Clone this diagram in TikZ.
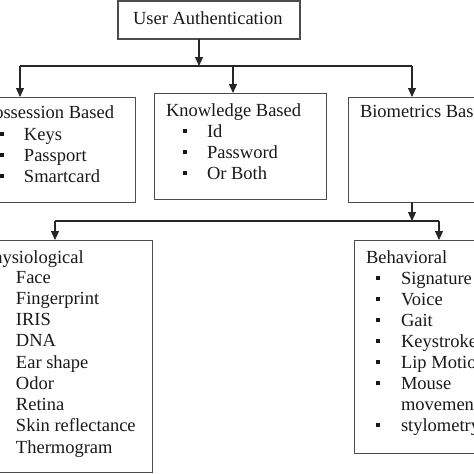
\documentclass[tikz,border=0pt]{standalone}
\usepackage{fontspec}
\setmainfont{Liberation Serif}
\usetikzlibrary{arrows.meta}
\newcommand\bulx[1][24pt]{\makebox[#1][l]{\rule[4pt]{4pt}{4pt}}}
\begin{document}
\begin{tikzpicture}[x=1pt,y=1pt,
 box/.style={draw=black!70, line width=0.9pt, rectangle, anchor=north west, inner sep=0pt, outer sep=0pt},
 txt/.style={anchor=base west, inner sep=0pt, outer sep=0pt, font=\fontsize{18.5}{21}\selectfont, text=black!90},
 conn/.style={draw=black!85, line width=1.1pt},
 arr/.style={conn, -{Triangle[length=9pt,width=8pt]}},
]
\useasboundingbox (0,0) rectangle (474,-474);
\clip (0,0) rectangle (474,-474);
% boxes
\node[box, line width=1.2pt, minimum width=182pt, minimum height=38pt] (top) at (118,-1) {};
\node[box, minimum width=145pt, minimum height=105pt] (poss) at (-10,-97) {};
\node[box, minimum width=172pt, minimum height=106pt] (know) at (154,-93) {};
\node[box, minimum width=140pt, minimum height=105pt] (bio) at (348,-97) {};
\node[box, minimum width=162pt, minimum height=232.5pt] (phys) at (-10,-240) {};
\node[box, minimum width=130pt, minimum height=213pt] (beh) at (354,-240) {};
% texts
\node[txt] (toptxt) at (133,-24) {User Authentication};
\node[txt] (posst) at (-16,-118) {Possession Based};
\foreach \t [count=\i] in {Keys,Passport,Smartcard}
  \node[txt] (possi\i) at (0,-140-21*\i+21) {\bulx\t};
\node[txt] (knowt) at (166,-116) {Knowledge Based};
\foreach \t [count=\i] in {Id,Password,Or Both}
  \node[txt] (knowi\i) at (183,-137-21*\i+21) {\bulx\t};
\node[txt] (biot) at (360,-117) {Biometrics Based};
\node[txt] (physt) at (-17,-263) {Physiological};
\foreach \t [count=\i] in {Face,Fingerprint,IRIS,DNA,Ear shape,Odor,Retina,Skin reflectance,Thermogram}
  \node[txt] (physi\i) at (-8,-283-21.25*\i+21.25) {\bulx\t};
\node[txt] (beht) at (366,-263) {Behavioral};
\foreach \t [count=\i] in {Signature,Voice,Gait,Keystroke,Lip Motion,Mouse}
  \node[txt] (behi\i) at (376,-284-21*\i+21) {\bulx[25pt]\t};
\node[txt] (behm) at (401,-410) {movement};
\node[txt] (behs) at (376,-431) {\bulx[25pt]stylometry};
% connectors level 1
\coordinate (bus) at (199,-66);
\coordinate (busL) at (20,-66);
\coordinate (busM) at (233,-66);
\coordinate (busR) at (412,-66);
\draw[arr] (top.south -| bus) -- (bus);
\draw[conn] (busL) -- (busR);
\draw[arr] (busL) -- (poss.north -| busL);
\draw[arr] (busM) -- (know.north -| busM);
\draw[arr] (busR) -- (bio.north -| busR);
% connectors level 2
\coordinate (b2) at (412,-221);
\coordinate (b2L) at (55,-221);
\coordinate (b2R) at (439,-221);
\draw[arr] (bio.south -| b2) -- (b2);
\draw[conn] (b2L) -- (b2R);
\draw[arr] (b2L) -- (phys.north -| b2L);
\draw[arr] (b2R) -- (beh.north -| b2R);
\end{tikzpicture}
\end{document}
